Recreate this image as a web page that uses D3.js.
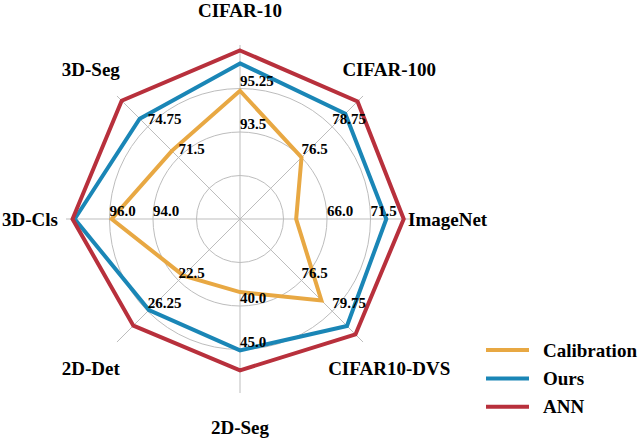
<!DOCTYPE html>
<html lang="en">
<head>
    <meta charset="UTF-8">
    <title>Radar chart</title>
    <script src="https://d3js.org/d3.v7.min.js"></script>
    <style>
        body { margin: 0; background: #fff; }
        text { font-family: "Liberation Serif", "Times New Roman", serif; font-weight: bold; fill: #000; }
    </style>
</head>
<body>
    <script>
        // axes, clockwise from the top
        const axes = ["CIFAR-10", "CIFAR-100", "ImageNet", "CIFAR10-DVS", "2D-Seg", "2D-Det", "3D-Cls", "3D-Seg"];
        const axisMin = [90, 72, 55, 70, 30, 15, 90, 65];
        const axisMax = [97, 81, 77, 83, 50, 30, 98, 78];
        // labels shown at the 2nd and 3rd ring of each axis
        const tickInner = ["93.5", "76.5", "66.0", "76.5", "40.0", "22.5", "94.0", "71.5"];
        const tickOuter = ["95.25", "78.75", "71.5", "79.75", "45.0", "26.25", "96.0", "74.75"];

        const seriesNames = ["Calibration", "Ours", "ANN"];
        const calibration = [95.16, 76.5, 62.1, 78.6, 38.4, 21.9, 95.9, 72.2];
        const ours = [96.26, 79.7, 73.5, 81.3, 45.1, 26.1, 97.6, 75.6];
        const ann = [96.78, 80.6, 75.7, 82.2, 47.4, 28.0, 97.7, 77.5];

        const width = 642, height = 439;
        const cx = 240, cy = 219, R = 174;
        const colors = ["#E8A843", "#1A86B6", "#B8303C"];

        const svg = d3.select("body").append("svg")
            .attr("width", width)
            .attr("height", height);

        const g = svg.append("g").attr("transform", `translate(${cx},${cy})`);

        const angle = d3.scalePoint().domain(d3.range(axes.length + 1)).range([0, 2 * Math.PI]);
        const scales = axes.map((a, i) => d3.scaleLinear().domain([axisMin[i], axisMax[i]]).range([0, R]));
        const ring = d3.scaleLinear().domain([0, 4]).range([0, R]);

        // grid rings
        g.append("g").selectAll("circle")
            .data([1, 2, 3])
            .enter().append("circle")
            .attr("r", d => ring(d))
            .attr("fill", "none")
            .attr("stroke", "#bdbdbd")
            .attr("stroke-width", 1);

        // spokes
        g.append("g").selectAll("line")
            .data(axes)
            .enter().append("line")
            .attr("x1", 0).attr("y1", 0)
            .attr("x2", (d, i) => R * Math.sin(angle(i)))
            .attr("y2", (d, i) => -R * Math.cos(angle(i)))
            .attr("stroke", "#bdbdbd")
            .attr("stroke-width", 1);

        // series polygons
        const series = [calibration, ours, ann];
        const line = d3.lineRadial()
            .angle((d, i) => angle(i))
            .radius((d, i) => scales[i](d))
            .curve(d3.curveLinearClosed);

        g.append("g").selectAll("path")
            .data(series)
            .enter().append("path")
            .attr("d", d => line(d))
            .attr("fill", "none")
            .attr("stroke", (d, i) => colors[i])
            .attr("stroke-width", 4)
            .attr("stroke-linejoin", "miter");

        // tick labels at rings 2 and 3
        const tickData = [];
        axes.forEach((a, i) => {
            tickData.push({ i, v: 2, t: tickInner[i] });
            tickData.push({ i, v: 3, t: tickOuter[i] });
        });
        g.append("g").selectAll("text")
            .data(tickData)
            .enter().append("text")
            .attr("x", d => ring(d.v) * Math.sin(angle(d.i)))
            .attr("y", d => -ring(d.v) * Math.cos(angle(d.i)) - 3)
            .attr("font-size", 15)
            .text(d => d.t);

        // axis names
        const labelR = 211;
        g.append("g").selectAll("text")
            .data(axes)
            .enter().append("text")
            .attr("x", (d, i) => {
                if (i === 2) return 168;
                if (i === 6) return -182;
                return labelR * Math.sin(angle(i));
            })
            .attr("y", (d, i) => {
                if (i === 0) return -209;
                if (i === 4) return 208;
                return -labelR * Math.cos(angle(i));
            })
            .attr("dy", "0.35em")
            .attr("text-anchor", (d, i) => i === 2 ? "start" : i === 6 ? "end" : "middle")
            .attr("font-size", 19)
            .text(d => d);

        // legend
        const legend = svg.append("g")
            .selectAll("g")
            .data(seriesNames)
            .enter().append("g")
            .attr("transform", (d, i) => `translate(486,${350 + i * 28.4})`);

        legend.append("line")
            .attr("x1", 0).attr("x2", 43)
            .attr("stroke", (d, i) => colors[i])
            .attr("stroke-width", 4);

        legend.append("text")
            .attr("x", 57)
            .attr("dy", "0.35em")
            .attr("font-size", 19)
            .text(d => d);
    </script>
</body>
</html>
